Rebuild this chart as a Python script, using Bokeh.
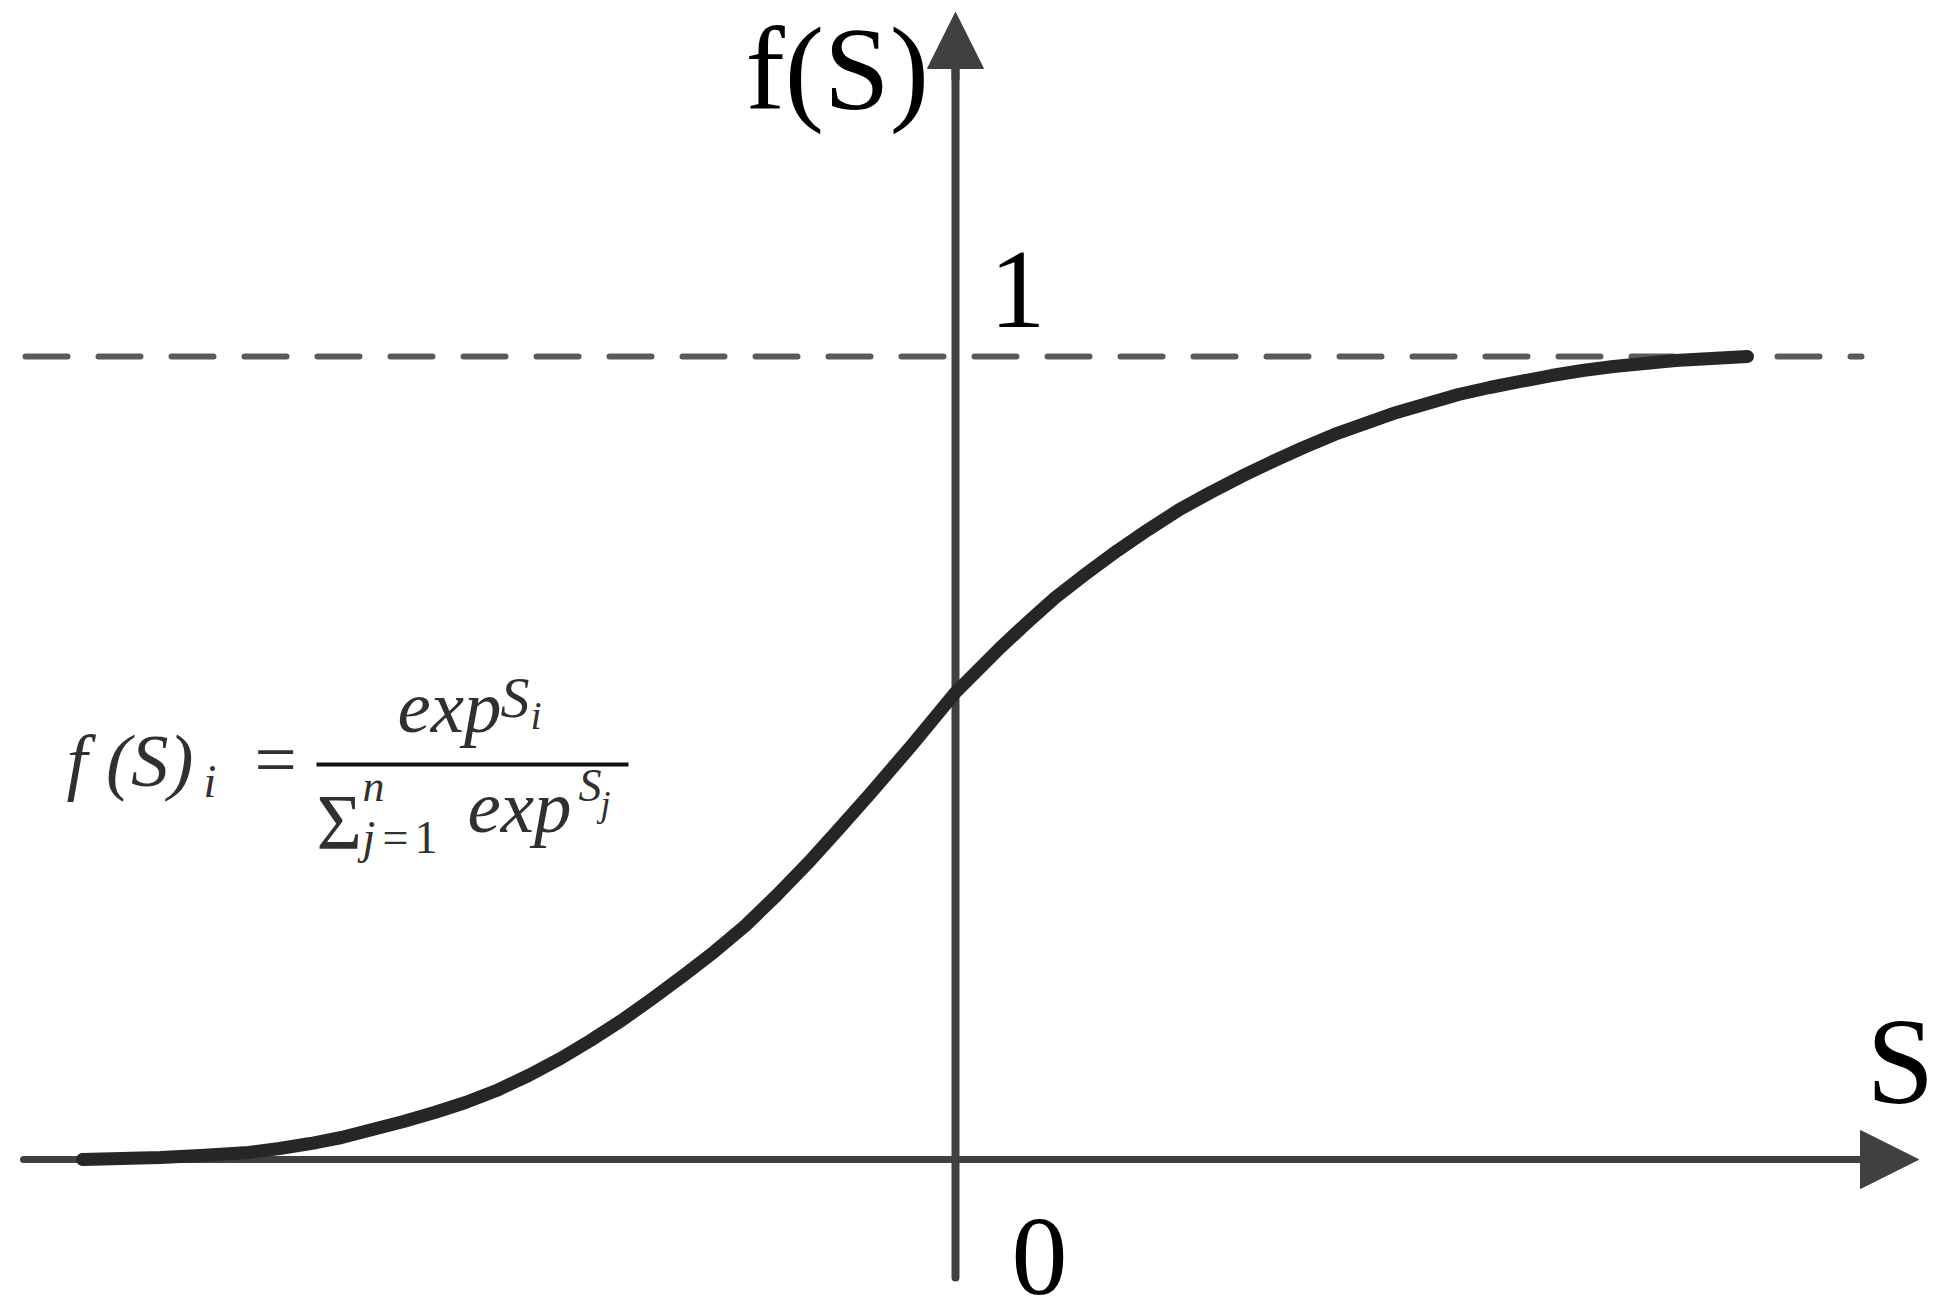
from bokeh.plotting import figure
from bokeh.models import Range1d, Arrow, NormalHead, Label, ColumnDataSource
from bokeh.embed import file_html
from bokeh.resources import INLINE

# ---------------- data ----------------
S_values = [-8.73, -7.95, -7.55, -7.07, -6.76, -6.45, -6.14, -5.83, -5.52, -5.21,
            -4.90, -4.59, -4.27, -3.95, -3.65, -3.34, -3.03, -2.72, -2.41, -2.10,
            -1.79, -1.48, -1.17, -0.86, -0.43, 0.00, 0.45, 0.73, 1.00, 1.31,
            1.62, 1.93, 2.24, 2.55, 2.86, 3.17, 3.48, 3.79, 4.10, 4.41,
            4.72, 5.03, 5.34, 5.65, 5.96, 6.27, 6.58, 6.89, 7.20, 7.56, 7.92]
f_values = [0.000, 0.0025, 0.0050, 0.0087, 0.0137, 0.0199, 0.0274, 0.0374, 0.0473, 0.0585,
            0.0710, 0.0859, 0.1046, 0.1258, 0.1482, 0.1731, 0.2005, 0.2291, 0.2590, 0.2914,
            0.3288, 0.3686, 0.4110, 0.4545, 0.5168, 0.5816, 0.6376, 0.6700, 0.6999, 0.7298,
            0.7584, 0.7846, 0.8095, 0.8306, 0.8506, 0.8692, 0.8867, 0.9029, 0.9166, 0.9303,
            0.9415, 0.9527, 0.9614, 0.9689, 0.9763, 0.9826, 0.9875, 0.9913, 0.9950, 0.9975, 1.000]
asymptote_level = 1.0
tick_labels = {"zero": "0", "one": "1"}
x_label = "S"
y_label = "f(S)"

# ---------------- layout helpers (reference pixel -> data) ----------------
X0, Y0 = 955.0, 1159.0     # pixel position of origin in reference
PX_PER_S, PX_PER_F = 100.0, 803.0
def sx(X):
    return (X - X0) / PX_PER_S
def sy(Y):
    return (Y0 - Y) / PX_PER_F

W, H = 1946, 1311
p = figure(width=W, height=H,
           x_range=Range1d(sx(0), sx(W)), y_range=Range1d(sy(H), sy(0)),
           output_backend="svg", toolbar_location=None,
           x_axis_type=None, y_axis_type=None, min_border=0,
           outline_line_color=None, background_fill_color="white",
           border_fill_color="white")

AXIS_COLOR = "#404040"

# dashed asymptote f = 1
p.line([sx(25), sx(1861)], [asymptote_level, asymptote_level],
       line_color="#5a5a5a", line_width=6, line_dash="42 31", line_cap="round")

# axes: bodies with round ends, heads drawn by Arrow (butt caps so nothing pokes out)
p.line([sx(23), sx(1880)], [0, 0], line_color=AXIS_COLOR, line_width=7, line_cap="round")
p.add_layout(Arrow(x_start=sx(1850), y_start=0, x_end=sx(1918), y_end=0,
                   line_color=AXIS_COLOR, line_width=7, line_cap="butt",
                   end=NormalHead(size=58, fill_color=AXIS_COLOR,
                                  line_color=AXIS_COLOR, line_width=1)))
p.line([0, 0], [sy(1277), sy(50)], line_color=AXIS_COLOR, line_width=8, line_cap="round")
p.add_layout(Arrow(x_start=0, y_start=sy(80), x_end=0, y_end=sy(12),
                   line_color=AXIS_COLOR, line_width=8, line_cap="butt",
                   end=NormalHead(size=56, fill_color=AXIS_COLOR,
                                  line_color=AXIS_COLOR, line_width=1)))

# curve
src = ColumnDataSource(dict(S=S_values, f=f_values))
p.line("S", "f", source=src, line_color="#262626", line_width=13,
       line_cap="round", line_join="round")

SERIF = "Liberation Serif"
BASE_FIX = 0.32   # em offset so the glyph baseline lands at Y
def add_text(X, Y, txt, size, style="normal", align="left", color="black"):
    p.add_layout(Label(x=sx(X), y=sy(Y - BASE_FIX * size), text=txt, text_font=SERIF,
                       text_font_size=f"{size}px", text_font_style=style,
                       text_align=align, text_baseline="alphabetic",
                       text_color=color))

# axis labels and ticks
add_text(745, 107, y_label, 118)
add_text(1866, 1100, x_label, 122)
add_text(1017, 325, tick_labels["one"], 112, align="center")
add_text(1039, 1292, tick_labels["zero"], 112, align="center")

# formula  f(S)_i = exp^{S_i} / sum_{j=1}^n exp^{S_j}
FC = "#303030"
add_text(66, 784, "f (S)", 75, "italic", color=FC)
add_text(203, 796, "i", 46, "italic", color=FC)
add_text(254, 782, "=", 75, color=FC)
# fraction bar
p.line([sx(316), sx(628)], [sy(764), sy(764)], line_color="#111111", line_width=4)
# numerator
add_text(397, 730, "exp", 75, "italic", color=FC)
add_text(500, 716, "S", 58, "italic", color=FC)
add_text(530, 728, "i", 40, "italic", color=FC)
# denominator
add_text(316, 846, "Σ", 78, color=FC)
add_text(362, 800, "n", 44, "italic", color=FC)
add_text(362, 852, "j", 46, "italic", color=FC)
add_text(382, 852, "=", 46, color=FC)
add_text(414, 852, "1", 46, color=FC)
add_text(467, 830, "exp", 75, "italic", color=FC)
add_text(578, 800, "S", 46, "italic", color=FC)
add_text(600, 815, "j", 36, "italic", color=FC)

open("out.html", "w").write(file_html(p, INLINE))
